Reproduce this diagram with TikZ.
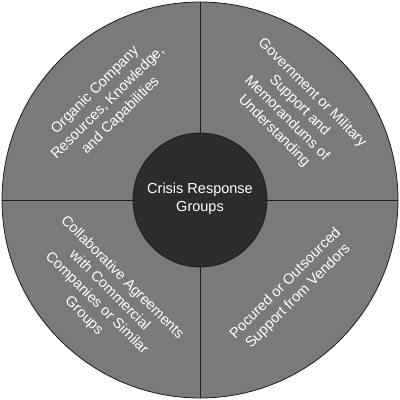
\documentclass[tikz,border=0pt]{standalone}
\usepackage{fontspec}
\setmainfont{Liberation Sans}
\definecolor{ringgray}{HTML}{7A7A7A}
\definecolor{hubgray}{HTML}{2C2C2C}
\definecolor{edgegray}{HTML}{1E1E1E}
\begin{document}
\begin{tikzpicture}[x=1pt,y=-1pt,
  ring/.style={circle, draw=edgegray, line width=0.8pt, fill=ringgray, minimum size=396pt, inner sep=0pt},
  hub/.style={circle, draw=edgegray, line width=0.8pt, fill=hubgray, minimum size=134pt, inner sep=0pt},
  divider/.style={draw=edgegray, line width=0.7pt},
  label/.style={text=white, align=center, font=\fontsize{14.5}{18}\selectfont, inner sep=0pt}]
\useasboundingbox (0,0) rectangle (400,400);
\node[ring] (outer) at (200,200) {};
\draw[divider] (outer.north) -- (outer.south);
\draw[divider] (outer.west) -- (outer.east);
\node[hub] (inner) at (200,200) {};
\node[label] (center) at (200,199) {Crisis Response\\Groups};
\node[label, rotate=45] (tl) at (108,103) {Organic Company\\Resources, Knowledge,\\and Capabilities};
\node[label, rotate=-45] (tr) at (293,112) {Government or Military\\Support and\\Memorandums of\\Understanding};
\node[label, rotate=-45] (bl) at (103,297) {Collaborative Agreements\\with Commercial\\Companies or Similar\\Groups};
\node[label, rotate=45] (br) at (292,290) {Pocured or Outsourced\\Support from Vendors};
\end{tikzpicture}
\end{document}
